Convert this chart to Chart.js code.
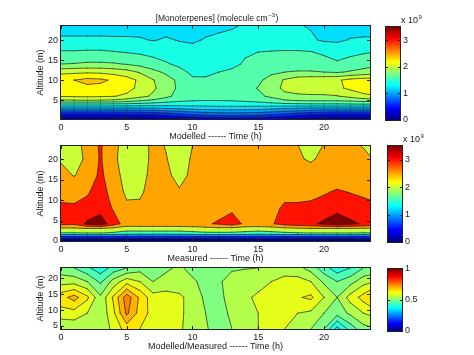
<!DOCTYPE html>
<html><head><meta charset="utf-8">
<script src="https://cdn.jsdelivr.net/npm/chart.js@4"></script>
<style>
html,body{margin:0;padding:0;background:#fff;}
#wrap{position:relative;width:474px;height:355px;overflow:hidden;}
#wrap canvas{position:absolute;left:0;top:0;}
</style></head><body>
<div id="wrap">
<canvas id="p1" width="474" height="355"></canvas>
<canvas id="p2" width="474" height="355"></canvas>
<canvas id="p3" width="474" height="355"></canvas>
<canvas id="c1" width="474" height="355"></canvas>
<canvas id="c2" width="474" height="355"></canvas>
<canvas id="c3" width="474" height="355"></canvas>
</div>
<script>
// ---- data ----
const TIME = [0,1,2,3,4,5,6,7,8,9,10,11,12,13,14,15,16,17,18,19,20,21,22,23,23.5];
const X_TICKS = [0,5,10,15,20];

// Modelled concentration (x 1e9 molecule cm-3), rows = altitudes
const ALT_MODEL = [0.3,1,2,3,4,5,6,8,10,12,14,17,20,23.5];
const MODELLED = [
 [0.30,0.30,0.30,0.30,0.30,0.30,0.31,0.32,0.34,0.37,0.40,0.43,0.45,0.46,0.46,0.45,0.43,0.41,0.37,0.33,0.31,0.30,0.30,0.30,0.30],
 [0.42,0.42,0.42,0.42,0.42,0.43,0.44,0.48,0.54,0.61,0.68,0.73,0.76,0.77,0.76,0.73,0.68,0.61,0.54,0.47,0.43,0.41,0.41,0.41,0.41],
 [0.78,0.78,0.78,0.78,0.78,0.79,0.80,0.83,0.87,0.92,0.98,1.02,1.04,1.05,1.04,1.02,0.98,0.93,0.88,0.83,0.79,0.77,0.77,0.77,0.77],
 [1.18,1.18,1.18,1.18,1.18,1.18,1.19,1.20,1.22,1.25,1.28,1.30,1.31,1.31,1.30,1.29,1.26,1.23,1.21,1.19,1.17,1.17,1.17,1.17,1.17],
 [1.58,1.58,1.58,1.58,1.57,1.56,1.54,1.52,1.50,1.49,1.49,1.49,1.50,1.50,1.51,1.52,1.54,1.56,1.57,1.58,1.58,1.58,1.59,1.60,1.60],
 [1.98,2.00,2.01,2.00,1.98,1.93,1.85,1.78,1.71,1.65,1.62,1.61,1.61,1.62,1.64,1.67,1.72,1.79,1.83,1.84,1.84,1.84,1.86,1.90,1.91],
 [2.22,2.23,2.24,2.23,2.21,2.16,2.06,1.97,1.85,1.73,1.68,1.67,1.67,1.68,1.71,1.76,1.84,1.95,1.96,1.97,1.97,1.99,2.06,2.16,2.18],
 [2.33,2.34,2.35,2.34,2.33,2.27,2.15,2.03,1.90,1.76,1.69,1.68,1.68,1.70,1.74,1.81,1.92,2.04,2.10,2.12,2.13,2.16,2.24,2.28,2.29],
 [2.38,2.40,2.46,2.44,2.37,2.29,2.16,2.01,1.89,1.75,1.63,1.62,1.64,1.67,1.70,1.76,1.88,2.02,2.12,2.14,2.15,2.17,2.26,2.30,2.30],
 [2.14,2.16,2.17,2.16,2.13,2.08,1.98,1.86,1.76,1.66,1.56,1.57,1.60,1.63,1.66,1.70,1.76,1.80,1.81,1.81,1.80,1.78,1.82,1.86,1.88],
 [1.80,1.81,1.83,1.83,1.82,1.79,1.74,1.68,1.62,1.56,1.53,1.53,1.54,1.56,1.62,1.63,1.67,1.72,1.74,1.74,1.72,1.63,1.68,1.72,1.74],
 [1.62,1.62,1.63,1.63,1.61,1.59,1.57,1.54,1.51,1.48,1.45,1.45,1.46,1.50,1.58,1.60,1.61,1.62,1.62,1.61,1.55,1.52,1.55,1.58,1.59],
 [1.44,1.44,1.44,1.44,1.43,1.43,1.42,1.39,1.42,1.39,1.38,1.41,1.42,1.43,1.45,1.47,1.48,1.47,1.45,1.42,1.38,1.37,1.41,1.42,1.42],
 [1.30,1.30,1.30,1.30,1.31,1.31,1.32,1.33,1.33,1.33,1.34,1.36,1.38,1.39,1.41,1.43,1.44,1.43,1.41,1.39,1.36,1.34,1.33,1.33,1.33]
];
const LEVELS_MODEL = [0,0.2,0.4,0.6,0.8,1.0,1.2,1.4,1.6,1.8,2.0,2.2,2.4,2.6,2.8,3.0,3.2,3.4];
const Y_TICKS_MODEL = [5,10,15,20];

// Measured concentration (x 1e9 molecule cm-3)
const ALT_MEAS = [0,1,2,3,4.2,8,12,16,20,23.2];
const MEASURED = [
 [0.10,0.10,0.10,0.10,0.10,0.10,0.10,0.10,0.10,0.10,0.10,0.10,0.10,0.10,0.10,0.10,0.10,0.10,0.10,0.10,0.10,0.10,0.10,0.10,0.10],
 [0.85,0.85,0.85,0.85,0.85,0.80,0.80,0.80,0.80,0.80,0.85,0.85,0.85,0.85,0.82,0.82,0.82,0.85,0.85,0.85,0.85,0.85,0.85,0.85,0.85],
 [2.00,2.00,2.05,2.05,1.95,1.85,1.85,1.85,1.85,1.85,1.90,1.95,1.95,1.95,1.90,1.85,1.90,1.95,2.00,2.05,2.05,2.05,2.05,2.00,2.00],
 [2.40,2.40,2.45,2.45,2.35,2.20,2.20,2.20,2.20,2.20,2.25,2.30,2.35,2.30,2.25,2.20,2.25,2.35,2.40,2.45,2.45,2.45,2.45,2.40,2.40],
 [3.15,3.10,3.60,3.80,3.20,2.80,2.85,2.85,2.85,2.85,2.85,2.95,3.05,3.25,2.90,2.90,2.95,3.20,3.30,3.40,3.60,3.75,3.60,3.45,3.35],
 [3.08,3.06,3.15,3.30,2.95,2.60,2.60,2.75,2.75,2.80,2.80,2.80,2.85,2.90,2.80,2.80,2.85,3.08,3.08,3.10,3.20,3.38,3.25,3.15,3.10],
 [2.85,2.85,2.95,3.20,2.80,2.40,2.42,2.70,2.70,2.55,2.70,2.75,2.75,2.75,2.75,2.75,2.75,2.85,2.85,2.88,2.95,3.05,2.98,2.92,2.90],
 [2.65,2.48,2.70,3.10,2.70,2.30,2.32,2.65,2.60,2.35,2.60,2.70,2.70,2.70,2.70,2.70,2.70,2.70,2.70,2.70,2.75,2.75,2.75,2.70,2.70],
 [2.45,2.30,2.60,3.05,2.60,2.25,2.30,2.60,2.52,2.30,2.55,2.65,2.70,2.70,2.70,2.65,2.65,2.60,2.55,2.45,2.60,2.70,2.70,2.60,2.55],
 [2.20,2.20,2.75,3.05,2.65,2.25,2.30,2.60,2.48,2.25,2.50,2.65,2.70,2.70,2.65,2.65,2.60,2.55,2.51,2.35,2.52,2.65,2.58,2.48,2.35]
];
const LEVELS_MEAS = [0,0.5,1.0,1.5,2.0,2.5,3.0,3.5];
const Y_TICKS_MEAS = [0,5,10,15,20];

// Ratio modelled / measured
const ALT_RATIO = [4,9,14,19,23.3];
const RATIO = [
 [0.55,0.56,0.56,0.55,0.62,0.67,0.65,0.62,0.61,0.61,0.57,0.555,0.53,0.55,0.58,0.60,0.61,0.60,0.58,0.55,0.50,0.38,0.47,0.53,0.54],
 [0.63,0.63,0.60,0.56,0.64,0.76,0.68,0.63,0.62,0.61,0.58,0.55,0.53,0.56,0.58,0.60,0.61,0.60,0.60,0.59,0.55,0.52,0.56,0.60,0.61],
 [0.68,0.72,0.66,0.56,0.66,0.78,0.69,0.62,0.62,0.61,0.58,0.54,0.54,0.565,0.59,0.61,0.62,0.63,0.645,0.66,0.60,0.55,0.62,0.67,0.70],
 [0.58,0.58,0.55,0.49,0.57,0.63,0.60,0.55,0.57,0.57,0.56,0.53,0.545,0.565,0.57,0.58,0.60,0.62,0.62,0.60,0.54,0.50,0.53,0.58,0.59],
 [0.52,0.50,0.46,0.42,0.47,0.50,0.53,0.52,0.54,0.56,0.53,0.52,0.53,0.545,0.548,0.55,0.56,0.57,0.565,0.53,0.47,0.42,0.45,0.50,0.51]
];
const LEVELS_RATIO = [0,0.05,0.10,0.15,0.20,0.25,0.30,0.35,0.40,0.45,0.50,0.55,0.60,0.65,0.70,0.75,0.80,0.85,0.90,0.95];
const Y_TICKS_RATIO = [5,10,15,20];

const CB_TICKS_CONC = [0,1,2,3];
const CB_TICKS_RATIO = [0,0.5,1];

// ---- helpers ----
const FONT = "'Liberation Sans', Arial, Helvetica, sans-serif";
const TXT = '#1a1a1a';

function jetCss(t){
  t = Math.max(0, Math.min(1, t));
  const c = v => Math.round(255 * Math.max(0, Math.min(1, v)));
  return 'rgb(' + c(1.5 - Math.abs(4*t - 3)) + ',' + c(1.5 - Math.abs(4*t - 2)) + ',' + c(1.5 - Math.abs(4*t - 1)) + ')';
}

function contourLayer(time, alt, z, levels, cmax){
  return {
    id: 'contourLayer',
    beforeDatasetsDraw(chart){
      const {ctx, chartArea: a, scales} = chart;
      const xs = time.map(v => scales.x.getPixelForValue(v));
      const ys = alt.map(v => scales.y.getPixelForValue(v));
      ctx.save();
      ctx.beginPath(); ctx.rect(a.left, a.top, a.right - a.left, a.bottom - a.top); ctx.clip();
      const segs = [];
      levels.forEach((L, li) => {
        ctx.beginPath();
        for (let j = 0; j < alt.length - 1; j++) {
          for (let i = 0; i < time.length - 1; i++) {
            const c = [[xs[i], ys[j], z[j][i]], [xs[i+1], ys[j], z[j][i+1]],
                       [xs[i+1], ys[j+1], z[j+1][i+1]], [xs[i], ys[j+1], z[j+1][i]]];
            const poly = [];
            for (let k = 0; k < 4; k++) {
              const p = c[k], q = c[(k+1) % 4];
              const pin = p[2] >= L, qin = q[2] >= L;
              if (pin) poly.push([p[0], p[1], false]);
              if (pin !== qin) {
                const f = (L - p[2]) / (q[2] - p[2]);
                poly.push([p[0] + f*(q[0]-p[0]), p[1] + f*(q[1]-p[1]), true]);
              }
            }
            if (poly.length < 3) continue;
            ctx.moveTo(poly[0][0], poly[0][1]);
            for (let k = 1; k < poly.length; k++) ctx.lineTo(poly[k][0], poly[k][1]);
            ctx.closePath();
            if (li > 0) {
              for (let k = 0; k < poly.length; k++) {
                const p = poly[k], q = poly[(k+1) % poly.length];
                if (p[2] && q[2]) segs.push([p[0], p[1], q[0], q[1]]);
              }
            }
          }
        }
        ctx.fillStyle = jetCss(L / cmax);
        ctx.fill();
      });
      ctx.beginPath();
      segs.forEach(s => { ctx.moveTo(s[0], s[1]); ctx.lineTo(s[2], s[3]); });
      ctx.strokeStyle = 'rgba(25,25,25,0.85)';
      ctx.lineWidth = 0.8;
      ctx.lineCap = 'round';
      ctx.stroke();
      ctx.restore();
    }
  };
}

function framePlugin(xt, yt){
  return {
    id: 'frameTicks',
    afterDatasetsDraw(chart){
      const {ctx, chartArea: a, scales: {x, y}} = chart;
      ctx.save();
      ctx.strokeStyle = '#222';
      ctx.lineWidth = 1;
      ctx.strokeRect(a.left - 0.5, a.top - 0.5, a.right - a.left + 1, a.bottom - a.top + 1);
      ctx.beginPath();
      xt.forEach(v => {
        const p = Math.round(x.getPixelForValue(v)) + 0.5;
        ctx.moveTo(p, a.bottom); ctx.lineTo(p, a.bottom - 3);
        ctx.moveTo(p, a.top); ctx.lineTo(p, a.top + 3);
      });
      yt.forEach(v => {
        const p = Math.round(y.getPixelForValue(v)) + 0.5;
        ctx.moveTo(a.left, p); ctx.lineTo(a.left + 3, p);
        ctx.moveTo(a.right, p); ctx.lineTo(a.right - 3, p);
      });
      ctx.stroke();
      ctx.restore();
    }
  };
}

const topTitle = {
  id: 'topTitle',
  afterDraw(chart){
    const {ctx, chartArea: a} = chart;
    const s1 = '[Monoterpenes] (molecule cm', s2 = '\u22123', s3 = ')';
    ctx.save();
    ctx.fillStyle = TXT;
    ctx.textBaseline = 'alphabetic';
    ctx.textAlign = 'left';
    ctx.font = '8.5px ' + FONT;
    const w1 = ctx.measureText(s1).width, w3 = ctx.measureText(s3).width;
    ctx.font = '6px ' + FONT;
    const w2 = ctx.measureText(s2).width;
    let x0 = (a.left + a.right) / 2 - (w1 + w2 + w3) / 2 + 1;
    const yb = 21;
    ctx.font = '8.5px ' + FONT;
    ctx.fillText(s1, x0, yb);
    ctx.font = '6px ' + FONT;
    ctx.fillText(s2, x0 + w1 + 0.5, yb - 4);
    ctx.font = '8.5px ' + FONT;
    ctx.fillText(s3, x0 + w1 + w2 + 1, yb);
    ctx.restore();
  }
};

function panel(id, o){
  return new Chart(document.getElementById(id), {
    type: 'scatter',
    data: { datasets: [] },
    options: {
      responsive: false, animation: false, devicePixelRatio: 1,
      layout: { padding: o.padding },
      plugins: { legend: { display: false }, tooltip: { enabled: false } },
      scales: {
        x: {
          type: 'linear', min: 0, max: 23.5,
          grid: { display: false, drawTicks: false, tickLength: 0 },
          border: { display: false },
          afterBuildTicks: s => { s.ticks = X_TICKS.map(v => ({ value: v })); },
          afterFit: s => { s.height = o.xh; },
          ticks: { padding: 3, color: TXT, font: { family: FONT, size: 9 }, maxRotation: 0, autoSkip: false },
          title: { display: true, text: o.xtitle, color: TXT, font: { family: FONT, size: 9 }, padding: { top: 0, bottom: o.xtpad } }
        },
        y: {
          type: 'linear', min: o.ymin, max: o.ymax,
          grid: { display: false, drawTicks: false, tickLength: 0 },
          border: { display: false },
          afterBuildTicks: s => { s.ticks = o.yticks.map(v => ({ value: v })); },
          afterFit: s => { s.width = 30; },
          ticks: { padding: 3, color: TXT, font: { family: FONT, size: 9 }, autoSkip: false },
          title: { display: true, text: 'Altitude (m)', color: TXT, font: { family: FONT, size: 9 }, padding: { top: 4, bottom: 0 } }
        }
      }
    },
    plugins: o.plugins
  });
}

function colorbar(id, o){
  return new Chart(document.getElementById(id), {
    type: 'scatter',
    data: { datasets: [] },
    options: {
      responsive: false, animation: false, devicePixelRatio: 1,
      layout: { padding: { left: o.left, right: 474 - o.right - 40, top: o.top, bottom: 355 - o.bottom } },
      plugins: { legend: { display: false }, tooltip: { enabled: false } },
      scales: {
        x: { display: false, type: 'linear', min: 0, max: 1 },
        y: {
          type: 'linear', position: 'right', min: 0, max: o.cmax,
          grid: { display: false, drawTicks: false, tickLength: 0 },
          border: { display: false },
          afterBuildTicks: s => { s.ticks = o.ticks.map(v => ({ value: v })); },
          afterFit: s => { s.width = 40; },
          ticks: { padding: 3, color: TXT, font: { family: FONT, size: 9 }, autoSkip: false,
                   callback: v => String(v) }
        }
      }
    },
    plugins: [{
      id: 'cbar',
      beforeDatasetsDraw(chart){
        const {ctx, chartArea: a, scales: {y}} = chart;
        ctx.save();
        for (let r = a.top; r < a.bottom; r++) {
          const v = y.getValueForPixel(r + 0.5);
          ctx.fillStyle = jetCss(v / o.cmax);
          ctx.fillRect(a.left, r, a.right - a.left, 1);
        }
        ctx.strokeStyle = '#222';
        ctx.lineWidth = 1;
        ctx.strokeRect(a.left - 0.5, a.top - 0.5, a.right - a.left + 1, a.bottom - a.top + 1);
        ctx.beginPath();
        o.ticks.forEach(v => {
          const p = Math.round(y.getPixelForValue(v)) + 0.5;
          ctx.moveTo(a.left, p); ctx.lineTo(a.left + 2, p);
          ctx.moveTo(a.right, p); ctx.lineTo(a.right - 2, p);
        });
        ctx.stroke();
        if (o.exp) {
          ctx.fillStyle = TXT;
          ctx.textAlign = 'left';
          ctx.textBaseline = 'alphabetic';
          ctx.font = '9px ' + FONT;
          const w = ctx.measureText('x 10').width;
          ctx.fillText('x 10', a.right + 1, a.top - 4);
          ctx.font = '6px ' + FONT;
          ctx.fillText('9', a.right + 1.5 + w, a.top - 8);
        }
        ctx.restore();
      }
    }]
  });
}

panel('p1', {
  padding: { left: 31, right: 104, top: 26, bottom: 209 }, xh: 27, xtpad: 4,
  ymin: 0.3, ymax: 23.5, yticks: Y_TICKS_MODEL, xtitle: 'Modelled ------ Time (h)',
  plugins: [contourLayer(TIME, ALT_MODEL, MODELLED, LEVELS_MODEL, 3.5), framePlugin(X_TICKS, Y_TICKS_MODEL), topTitle]
});
panel('p2', {
  padding: { left: 31, right: 104, top: 146, bottom: 87 }, xh: 27, xtpad: 4,
  ymin: 0, ymax: 23.2, yticks: Y_TICKS_MEAS, xtitle: 'Measured ------ Time (h)',
  plugins: [contourLayer(TIME, ALT_MEAS, MEASURED, LEVELS_MEAS, 3.5), framePlugin(X_TICKS, Y_TICKS_MEAS)]
});
panel('p3', {
  padding: { left: 31, right: 104, top: 268, bottom: 0 }, xh: 26, xtpad: 3,
  ymin: 4, ymax: 23.3, yticks: Y_TICKS_RATIO, xtitle: 'Modelled/Measured ------ Time (h)',
  plugins: [contourLayer(TIME, ALT_RATIO, RATIO, LEVELS_RATIO, 1), framePlugin(X_TICKS, Y_TICKS_RATIO)]
});
colorbar('c1', { left: 386, right: 400, top: 27, bottom: 120, cmax: 3.5, ticks: CB_TICKS_CONC, exp: true });
colorbar('c2', { left: 388, right: 402, top: 146, bottom: 242, cmax: 3.5, ticks: CB_TICKS_CONC, exp: true });
colorbar('c3', { left: 388, right: 402, top: 269, bottom: 331, cmax: 1, ticks: CB_TICKS_RATIO, exp: false });
</script>
</body></html>
